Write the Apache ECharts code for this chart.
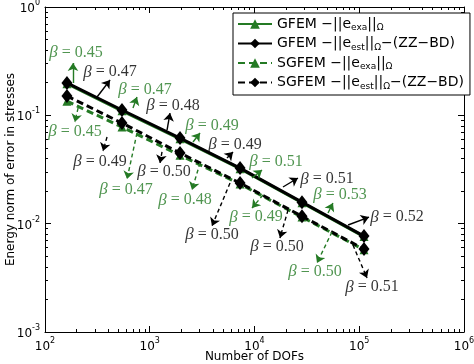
<!DOCTYPE html>
<html><head><meta charset="utf-8">
<script src="https://cdn.jsdelivr.net/npm/echarts@6/dist/echarts.min.js"></script>
<style>html,body{margin:0;padding:0;background:#fff}#c{width:474px;height:364px}</style>
</head><body><div id="c"></div>
<script>
// ---- data ----
const dofs = [162, 543, 1945, 7280, 28400, 111000];
const gfemExa = [0.196, 0.110, 0.0607, 0.0322, 0.0156, 0.00760];
const gfemEst = [0.199, 0.112, 0.0617, 0.0326, 0.0158, 0.00768];
const sgfemExa = [0.135, 0.078, 0.0428, 0.0232, 0.0115, 0.00575];
const sgfemEst = [0.151, 0.0849, 0.0449, 0.0237, 0.0117, 0.00583];
const xTicks = [100, 1000, 10000, 100000, 1000000];
const yTicks = [0.001, 0.01, 0.1, 1];
// convergence-rate annotations: beta, label anchor (x,y), arrow start, arrow end (data coords)
const betaGfemExa = [0.45, 0.47, 0.49, 0.51, 0.53];
const annGfemExa = [
  [198, 0.376, 185, 0.199, 185, 0.304],
  [901, 0.1714, 692, 0.117, 755, 0.1477],
  [3928, 0.0797, 2588, 0.0567, 3020, 0.0687],
  [16040, 0.0371, 9468, 0.0264, 11800, 0.0313],
  [65500, 0.0184, 50300, 0.01254, 56100, 0.0155]
];
const betaGfemEst = [0.47, 0.48, 0.49, 0.51, 0.52];
const annGfemEst = [
  [418, 0.251, 314, 0.1477, 418, 0.212],
  [1667, 0.122, 1462, 0.0732, 1561, 0.105],
  [6516, 0.0532, 5463, 0.0404, 6237, 0.0459],
  [49200, 0.0258, 18700, 0.0218, 26000, 0.0264],
  [229000, 0.01151, 78200, 0.00972, 123900, 0.01151]
];
const betaSgfemExa = [0.45, 0.47, 0.48, 0.49, 0.50];
const annSgfemExa = [
  [193, 0.0702, 207, 0.117, 193, 0.0868],
  [593, 0.0205, 755, 0.0687, 607, 0.0258],
  [2171, 0.0165, 3020, 0.0363, 2531, 0.0205],
  [10330, 0.01151, 12050, 0.0184, 9468, 0.01395],
  [37800, 0.00358, 54900, 0.00838, 39500, 0.00434]
];
const betaSgfemEst = [0.49, 0.50, 0.50, 0.50, 0.51];
const annSgfemEst = [
  [335, 0.0371, 391, 0.0631, 358, 0.0469],
  [1368, 0.0300, 1309, 0.0459, 1253, 0.0363],
  [3928, 0.00786, 5837, 0.0237, 3928, 0.00952],
  [16400, 0.00609, 20900, 0.01337, 17500, 0.00738],
  [132400, 0.00260, 87100, 0.00635, 118600, 0.00315]
];

const GREEN = '#247a24';
const BLACK = '#000';
const legendRich = {
  t: {fontFamily: 'DejaVu Sans', fontSize: 14, color: '#000', lineHeight: 17},
  s: {fontFamily: 'DejaVu Sans', fontSize: 9, color: '#000', verticalAlign: 'bottom', lineHeight: 10}
};
const legendText = {
  'GFEM exa': '{t|GFEM \u2212||e}{s|exa}{t|||}{s|\u03a9}',
  'GFEM est': '{t|GFEM \u2212||e}{s|est}{t|||}{s|\u03a9}{t|\u2212(ZZ\u2212BD)}',
  'SGFEM exa': '{t|SGFEM \u2212||e}{s|exa}{t|||}{s|\u03a9}',
  'SGFEM est': '{t|SGFEM \u2212||e}{s|est}{t|||}{s|\u03a9}{t|\u2212(ZZ\u2212BD)}'
};
function pairs(ys){ return dofs.map((d,i)=>[d, ys[i]]); }
function powLabel(v){ const e = Math.round(Math.log10(v)); return '{b|10}{p|' + e + '}'; }
const tickRich = {
  b: {fontFamily: 'DejaVu Sans', fontSize: 12, color: '#000', verticalAlign: 'bottom', lineHeight: 14},
  p: {fontFamily: 'DejaVu Sans', fontSize: 8, color: '#000', verticalAlign: 'top', lineHeight: 16}
};
function mainSeries(name, ys, color, dashed, sym){
  return {
    name, type: 'line', data: pairs(ys), xAxisIndex: 0, yAxisIndex: 0,
    symbol: sym, symbolSize: sym === 'diamond' ? [11, 14] : 9,
    itemStyle: {color}, lineStyle: {color, width: 3, type: dashed ? [7, 4] : 'solid'},
    z: sym === 'diamond' ? 4 : 3, animation: false
  };
}
function annSeries(betas, ann, color, dashed){
  const labels = {
    type: 'scatter', xAxisIndex: 0, yAxisIndex: 0, symbolSize: 0, silent: true, animation: false,
    data: ann.map((a,i)=>({value: [a[0], a[1]], beta: betas[i]})),
    label: {show: true, position: 'inside', color,
      formatter: p => '{g|\u03b2}{n| = ' + betas[p.dataIndex].toFixed(2) + '}',
      rich: {
        g: {fontFamily: 'Liberation Serif', fontStyle: 'italic', fontSize: 17, color},
        n: {fontFamily: 'Liberation Serif', fontSize: 16, color}
      }},
    z: 6
  };
  const arrows = {
    type: 'lines', coordinateSystem: 'cartesian2d', xAxisIndex: 0, yAxisIndex: 0, silent: true, animation: false,
    symbol: ['none', 'arrow'], symbolSize: 8,
    lineStyle: {color, width: 1.4, type: dashed ? [4, 3] : 'solid', opacity: 1},
    data: ann.map(a=>({coords: [[a[2], a[3]], [a[4], a[5]]]})),
    z: 5
  };
  return [labels, arrows];
}
const chart = echarts.init(document.getElementById('c'), null, {renderer: 'canvas'});
const axisCommon = {
  type: 'log', logBase: 10,
  axisLine: {show: true, lineStyle: {color: '#000', width: 1}},
  axisTick: {show: true, inside: true, length: 6, lineStyle: {color: '#000'}},
  minorTick: {show: true, splitNumber: 9, length: 3, lineStyle: {color: '#000'}},
  splitLine: {show: false}, minorSplitLine: {show: false}
};
chart.setOption({
  backgroundColor: '#fff',
  animation: false,
  grid: {left: 45, right: 10, top: 7, bottom: 32, outerBoundsMode: 'none', containLabel: false},
  legend: {
    orient: 'vertical', left: 233, top: 13, itemWidth: 34, itemHeight: 12, itemGap: 4,
    padding: [4, 6, 4, 4], borderColor: '#000', borderWidth: 1, backgroundColor: '#fff',
    data: ['GFEM exa', 'GFEM est', 'SGFEM exa', 'SGFEM est'],
    formatter: n => legendText[n], textStyle: {rich: legendRich}
  },
  xAxis: [
    Object.assign({}, axisCommon, {position: 'bottom', min: 100, max: 1000000,
      name: 'Number of DOFs', nameLocation: 'middle', nameGap: 19, nameMoveOverlap: false,
      nameTextStyle: {fontFamily: 'DejaVu Sans', fontSize: 12, color: '#000'},
      axisLabel: {margin: 5, formatter: powLabel, rich: tickRich}}),
    Object.assign({}, axisCommon, {position: 'top', min: 100, max: 1000000, axisLabel: {show: false}})
  ],
  yAxis: [
    Object.assign({}, axisCommon, {position: 'left', min: 0.001, max: 1,
      name: 'Energy norm of error in stresses', nameLocation: 'middle', nameGap: 28, nameMoveOverlap: false,
      nameTextStyle: {fontFamily: 'DejaVu Sans', fontSize: 12, color: '#000'},
      axisLabel: {margin: 5, formatter: powLabel, rich: tickRich}}),
    Object.assign({}, axisCommon, {position: 'right', min: 0.001, max: 1, axisLabel: {show: false}})
  ],
  series: [
    mainSeries('GFEM exa', gfemExa, GREEN, false, 'triangle'),
    mainSeries('GFEM est', gfemEst, BLACK, false, 'diamond'),
    mainSeries('SGFEM exa', sgfemExa, GREEN, true, 'triangle'),
    mainSeries('SGFEM est', sgfemEst, BLACK, true, 'diamond'),
    ...annSeries(betaGfemExa, annGfemExa, GREEN, false),
    ...annSeries(betaGfemEst, annGfemEst, BLACK, false),
    ...annSeries(betaSgfemExa, annSgfemExa, GREEN, true),
    ...annSeries(betaSgfemEst, annSgfemEst, BLACK, true)
  ]
});
</script></body></html>
